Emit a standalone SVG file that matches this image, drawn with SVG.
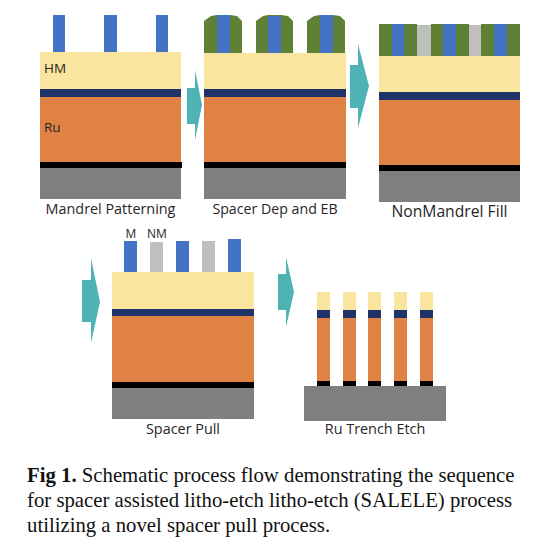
<svg xmlns="http://www.w3.org/2000/svg" width="553" height="546" viewBox="0 0 553 546">
<style>
.hm{fill:#fae59f}.nv{fill:#1f3368}.ru{fill:#df8244}.bk{fill:#000}.gy{fill:#7f7f7f}.m{fill:#4472c4}.nm{fill:#bfbfbf}.sp{fill:#5f8136}.ar{fill:#4fb3b5}
text{font-family:"Open Sans","Noto Sans",sans-serif;font-size:14.4px;fill:#262626}
.lb{text-anchor:middle}
.cap{font-family:"Liberation Serif",serif;font-size:20.75px;fill:#111}
</style>
<rect width="553" height="546" fill="#fff"/>
<g id="connectors">
<polygon class="ar" points="187,88 195,88 195,70 202,105 195,140 195,124 187,124"/>
<polygon class="ar" points="350,65 358,65 358,44 369,86 358,128 358,108 350,108"/>
<polygon class="ar" points="82,280 91,280 91,258 100,302 91,343 91,322 82,322"/>
<polygon class="ar" points="278,274 286,274 286,257 294,292 286,327 286,310 278,310"/>
</g>
<g id="mandrel-patterning">
<rect class="m" x="53" y="15" width="12" height="38"/><rect class="m" x="104" y="15" width="13" height="38"/><rect class="m" x="156" y="15" width="12" height="38"/>
<rect class="hm" x="40" y="52" width="141" height="37"/><rect class="nv" x="40" y="89" width="141" height="8"/><rect class="ru" x="40" y="97" width="141" height="65"/><rect class="bk" x="40" y="162" width="142" height="6"/><rect class="gy" x="40" y="168" width="141" height="31"/>
<text x="44" y="73" style="font-size:13.5px">HM</text><text x="44" y="132" style="font-size:13.5px">Ru</text>
<text class="lb" x="110.500" y="214">Mandrel Patterning</text>
</g>
<g id="spacer-dep-eb">
<path class="sp" d="M204,53V21L211,16L217,15H230L237,16L242,21V53Z"/><path class="sp" d="M256,53V21L263,16L268,15H281L288,16L293,21V53Z"/><path class="sp" d="M307,53V21L314,16L320,15H333L340,16L345,21V53Z"/>
<rect class="m" x="217" y="15" width="13" height="38"/><rect class="m" x="268" y="16" width="13" height="37"/><rect class="m" x="320" y="15" width="13" height="38"/>
<rect class="hm" x="204" y="53" width="142" height="36"/><rect class="nv" x="204" y="89" width="142" height="8"/><rect class="ru" x="204" y="97" width="142" height="65"/><rect class="bk" x="204" y="162" width="142" height="6"/><rect class="gy" x="204" y="168" width="142" height="31"/>
<text class="lb" x="275" y="214" style="font-size:14.2px">Spacer Dep and EB</text>
</g>
<g id="nonmandrel-fill">
<rect class="sp" x="379" y="24" width="38" height="32"/><rect class="nm" x="417" y="25" width="14" height="31"/><rect class="sp" x="431" y="24" width="38" height="32"/><rect class="nm" x="469" y="25" width="12" height="31"/><rect class="sp" x="481" y="24" width="39" height="32"/>
<rect class="m" x="392" y="24" width="12" height="32"/><rect class="m" x="443" y="24" width="13" height="32"/><rect class="m" x="494" y="24" width="13" height="32"/>
<rect class="hm" x="379" y="56" width="141" height="36"/><rect class="nv" x="379" y="92" width="141" height="8"/><rect class="ru" x="379" y="100" width="141" height="65"/><rect class="bk" x="379" y="165" width="141" height="6"/><rect class="gy" x="379" y="171" width="141" height="31"/>
<text class="lb" x="449.500" y="217" style="font-size:15.700px">NonMandrel Fill</text>
</g>
<g id="spacer-pull">
<rect class="m" x="124" y="241" width="13" height="32"/><rect class="nm" x="150" y="242" width="13" height="31"/><rect class="m" x="176" y="241" width="13" height="32"/><rect class="nm" x="202" y="241" width="13" height="32"/><rect class="m" x="228" y="239" width="13" height="33"/>
<rect class="hm" x="112" y="272" width="142" height="37"/><rect class="nv" x="112" y="309" width="142" height="7"/><rect class="ru" x="112" y="316" width="142" height="66"/><rect class="bk" x="112" y="382" width="142" height="6"/><rect class="gy" x="112" y="388" width="142" height="31"/>
<text class="lb" x="131" y="238" style="font-size:12px">M</text><text class="lb" x="157" y="238" style="font-size:12px">NM</text>
<text class="lb" x="183" y="434">Spacer Pull</text>
</g>
<g id="ru-trench-etch">
<g id="pillar-1"><rect class="hm" x="317" y="292" width="13" height="18"/><rect class="nv" x="317" y="310" width="13" height="8"/><rect class="ru" x="317" y="318" width="13" height="63"/><rect class="bk" x="317" y="381" width="13" height="6"/></g>
<g id="pillar-2"><rect class="hm" x="343" y="292" width="13" height="18"/><rect class="nv" x="343" y="310" width="13" height="8"/><rect class="ru" x="343" y="318" width="13" height="63"/><rect class="bk" x="343" y="381" width="13" height="6"/></g>
<g id="pillar-3"><rect class="hm" x="368" y="292" width="13" height="18"/><rect class="nv" x="368" y="310" width="13" height="8"/><rect class="ru" x="368" y="318" width="13" height="63"/><rect class="bk" x="368" y="381" width="13" height="6"/></g>
<g id="pillar-4"><rect class="hm" x="394" y="292" width="13" height="18"/><rect class="nv" x="394" y="310" width="13" height="8"/><rect class="ru" x="394" y="318" width="13" height="63"/><rect class="bk" x="394" y="381" width="13" height="6"/></g>
<g id="pillar-5"><rect class="hm" x="420" y="292" width="13" height="18"/><rect class="nv" x="420" y="310" width="13" height="8"/><rect class="ru" x="420" y="318" width="13" height="63"/><rect class="bk" x="420" y="381" width="13" height="6"/></g>
<rect class="gy" x="304" y="386" width="142" height="35"/>
<text class="lb" x="375" y="434">Ru Trench Etch</text>
</g>
<g id="caption">
<text class="cap" x="27" y="482"><tspan font-weight="bold">Fig 1.</tspan> Schematic process flow demonstrating the sequence</text>
<text class="cap" x="27" y="507">for spacer assisted litho-etch litho-etch (SALELE) process</text>
<text class="cap" x="27" y="532">utilizing a novel spacer pull process.</text>
</g>
</svg>
